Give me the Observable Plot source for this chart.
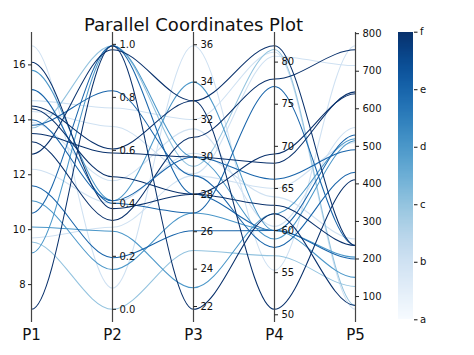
<!DOCTYPE html>
<html>
<head>
<meta charset="utf-8">
<script src="https://cdn.jsdelivr.net/npm/d3@7"></script>
<script src="https://cdn.jsdelivr.net/npm/@observablehq/plot@0.6"></script>
<style>
  html, body { margin: 0; padding: 0; background: #fff; }
  #wrap { position: relative; width: 474px; height: 355px; font-family: "DejaVu Sans", sans-serif; }
  #wrap svg { position: absolute; top: 0; }
</style>
</head>
<body>
<div id="wrap"></div>
<script>
// ---- data ----
const dims = ["P1", "P2", "P3", "P4", "P5"];
const catLabels = ["a", "b", "c", "d", "e", "f"];
const p1 = [16.7, 14.7, 14.3, 13.9, 9.7, 12.2, 9.55, 13.7, 15.8, 9.15, 10.1, 11.05, 13.8, 10.6, 11.6, 15.1, 16.1, 14.4, 13.5, 14.5, 13.2, 12.75, 7.1, 14.0];
const p2 = [0.08, 0.76, 0.69, 0.485, 0.31, 0.40, 0.0, 0.995, 0.41, 0.995, 0.295, 0.15, 0.825, 0.995, 0.195, 0.40, 0.38, 0.50, 0.59, 0.605, 0.335, 0.98, 0.995, 0.41];
const p3 = [35.95, 32.0, 29.1, 31.5, 29.0, 30.2, 25.0, 29.5, 34.0, 30.0, 23.0, 27.0, 29.0, 28.0, 26.05, 27.0, 28.0, 28.0, 30.0, 33.0, 31.05, 33.0, 21.85, 30.0];
const p4 = [55.3, 81.2, 80.7, 60.5, 65.0, 64.0, 57.0, 81.5, 60.0, 59.0, 62.0, 60.0, 58.0, 60.0, 60.0, 77.1, 69.1, 63.0, 68.0, 50.65, 78.0, 81.95, 62.0, 66.1];
const p5 = [768, 66, 715, 550, 510, 253, 127, 76, 151, 515, 520, 205, 431, 530, 200, 236, 640, 236, 645, 411, 757, 236, 76, 491];
const cats = [1, 1, 1, 1, 1, 1, 2, 2, 3, 3, 3, 3, 4, 4, 4, 4, 5, 5, 5, 5, 5, 5, 5, 4];
const tickVals = [
  [8, 10, 12, 14, 16],
  [0, 0.2, 0.4, 0.6, 0.8, 1.0],
  [22, 24, 26, 28, 30, 32, 34, 36],
  [50, 55, 60, 65, 70, 75, 80],
  [100, 200, 300, 400, 500, 600, 700, 800]
];
const tickFmt = [d3.format("d"), d3.format(".1f"), d3.format("d"), d3.format("d"), d3.format("d")];

// ---- per-axis ranges (data extent padded by 5%, like the original) ----
const cols = [p1, p2, p3, p4, p5];
const ranges = cols.map(c => {
  const lo = d3.min(c), hi = d3.max(c), pad = (hi - lo) * 0.05;
  return [lo - pad, hi + pad];
});
const norm = (k, v) => (v - ranges[k][0]) / (ranges[k][1] - ranges[k][0]);

// long table for lines
const rows = [];
cats.forEach((c, i) => {
  cols.forEach((col, k) => rows.push({id: i, cat: c, k, v: norm(k, col[i])}));
});
const ticks = [];
tickVals.forEach((tv, k) => tv.forEach(t => ticks.push({k, y: norm(k, t), label: tickFmt[k](t)})));

// matplotlib-style cubic Bezier (control points at 1/3 and 2/3, flat tangents)
function curveMpl(context) {
  let x0, y0, i;
  return {
    areaStart() {}, areaEnd() {},
    lineStart() { i = 0; },
    lineEnd() {},
    point(x, y) {
      x = +x; y = +y;
      if (i++ === 0) context.moveTo(x, y);
      else { const dx = (x - x0) / 3; context.bezierCurveTo(x0 + dx, y0, x - dx, y, x, y); }
      x0 = x; y0 = y;
    }
  };
}
const tickRight = {draw(ctx) { ctx.moveTo(0, 0); ctx.lineTo(3.5, 0); }};
const tickLeft = {draw(ctx) { ctx.moveTo(0, 0); ctx.lineTo(-3.5, 0); }};

const colorScale = {type: "linear", scheme: "blues", domain: [0, 5]};

const main = Plot.plot({
  width: 474, height: 355,
  marginLeft: 31, marginRight: 119, marginTop: 32, marginBottom: 33,
  style: {fontFamily: "DejaVu Sans, sans-serif", background: "transparent"},
  x: {domain: [0, 4], axis: null},
  y: {domain: [0, 1], axis: null},
  color: colorScale,
  marks: [
    Plot.line(rows, {x: "k", y: "v", z: "id", stroke: "cat", strokeWidth: 1.05, curve: curveMpl}),
    Plot.ruleX([0, 1, 2, 3, 4], {stroke: "#444", strokeWidth: 1.2}),
    Plot.dot(ticks, {x: "k", y: "y", symbol: d => d.k === 0 ? tickLeft : tickRight, fill: "none", stroke: "#222", strokeWidth: 1}),
    Plot.text(ticks.filter(d => d.k === 0), {x: "k", y: "y", text: "label", textAnchor: "end", dx: -6, fontSize: 10, fill: "#111"}),
    Plot.text(ticks.filter(d => d.k > 0), {x: "k", y: "y", text: "label", textAnchor: "start", dx: 7, fontSize: 10, fill: "#111"}),
    Plot.axisX({ticks: [0, 1, 2, 3, 4], tickFormat: i => dims[i], tickSize: 0, tickPadding: 7, fontSize: 15, label: null, color: "#111"}),
    Plot.text(["Parallel Coordinates Plot"], {frameAnchor: "top", dy: -14, fontSize: 18, fill: "#111"})
  ]
});

// colorbar
const steps = d3.range(0, 5, 0.02).map(v => ({v0: v, v1: v + 0.02}));
const bar = Plot.plot({
  width: 60, height: 355,
  marginLeft: 0, marginRight: 45, marginTop: 31.7, marginBottom: 35.7,
  style: {fontFamily: "DejaVu Sans, sans-serif", background: "transparent"},
  x: {domain: [0, 1], axis: null},
  y: {domain: [0, 5], axis: null},
  color: colorScale,
  marks: [
    Plot.rect(steps, {x1: 0, x2: 1, y1: "v0", y2: "v1", fill: d => d.v0 + 0.01, inset: 0, shapeRendering: "crispEdges"}),
    Plot.axisY({anchor: "right", ticks: [0, 1, 2, 3, 4, 5], tickFormat: i => catLabels[i], tickSize: 3.5, tickPadding: 3, fontSize: 10, label: null, color: "#111"})
  ]
});

const wrap = document.getElementById("wrap");
main.style.left = "0px";
bar.style.left = "398px";
wrap.appendChild(main);
wrap.appendChild(bar);
</script>
</body>
</html>
